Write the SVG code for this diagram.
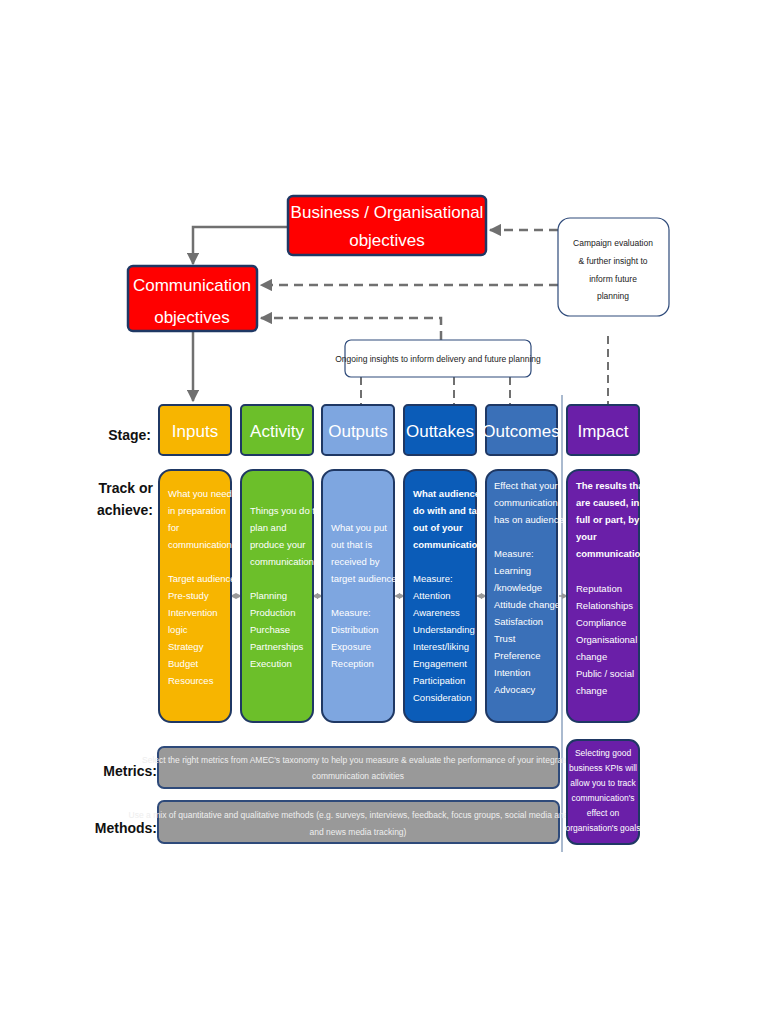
<svg xmlns="http://www.w3.org/2000/svg" width="768" height="1024" viewBox="0 0 768 1024">
<defs>
<marker id="ah" viewBox="0 0 10 10" refX="9" refY="5" markerWidth="5" markerHeight="5" orient="auto"><path d="M0,0L10,5L0,10z" fill="#707070"/></marker>
<marker id="ds" viewBox="0 0 10 10" refX="5" refY="5" markerWidth="4" markerHeight="4" orient="auto-start-reverse"><path d="M0,0L10,5L0,10z" fill="#999"/></marker>
</defs>
<style>
text{font-family:"Liberation Sans",Arial,sans-serif}
.red{fill:#f00;stroke:#1f3864;stroke-width:2.5}
.wt{fill:#fff;stroke:#2e4a7a;stroke-width:1.2}
.st{stroke:#1f3864;stroke-width:2}
.h{fill:#fff;font-size:17px;text-anchor:middle}
.lb{fill:#111;font-size:14px;font-weight:bold;text-anchor:end}
.b{fill:#fff;font-size:9.5px}
.bb{fill:#fff;font-size:9.5px;font-weight:bold}
.sm{fill:#222;font-size:8.5px;text-anchor:middle}
.g{fill:#999;stroke:#2e4a7a;stroke-width:2}
.gt{fill:#eee;font-size:8.5px;text-anchor:middle}
.sol{stroke:#707070;stroke-width:2.5;fill:none}
.da{stroke:#707070;stroke-width:2.5;fill:none;stroke-dasharray:9,6}
.dv{stroke:#707070;stroke-width:2;fill:none;stroke-dasharray:8,5}
</style>
<rect width="768" height="1024" fill="#fff"/>
<g id="connectors">
<path class="sol" d="M288,227H193V264" marker-end="url(#ah)"/>
<path class="sol" d="M193,331V401" marker-end="url(#ah)"/>
<path class="da" d="M558,230H490" marker-end="url(#ah)"/>
<path class="da" d="M558,285H261" marker-end="url(#ah)"/>
<path class="da" d="M441,340V318H261" marker-end="url(#ah)"/>
<path class="dv" d="M361,377V405M454,377V405M510,377V405M608,336V405"/>
<line x1="562" y1="395" x2="562" y2="852" stroke="#8ea3bf" stroke-width="1.5"/>
<g stroke="#999" stroke-width="1.5" marker-start="url(#ds)" marker-end="url(#ds)">
<line x1="233" y1="596" x2="239" y2="596"/><line x1="315" y1="596" x2="320" y2="596"/>
<line x1="397" y1="596" x2="402" y2="596"/><line x1="479" y1="596" x2="484" y2="596"/>
</g>
<path d="M559,596H565" stroke="#999" stroke-width="1.5" marker-end="url(#ds)"/>
</g>
<g id="business"><rect class="red" x="288" y="196" width="198" height="59" rx="5"/>
<text class="h" x="387" y="218">Business / Organisational</text><text class="h" x="387" y="246">objectives</text></g>
<g id="comm"><rect class="red" x="128" y="266" width="129" height="65" rx="5"/>
<text class="h" x="192" y="291">Communication</text><text class="h" x="192" y="323">objectives</text></g>
<g id="campaign"><rect class="wt" x="558" y="218" width="111" height="98" rx="12"/>
<text class="sm" x="613" y="246">Campaign evaluation</text><text class="sm" x="613" y="264">&amp; further insight to</text><text class="sm" x="613" y="282">inform future</text><text class="sm" x="613" y="299">planning</text></g>
<g id="ongoing"><rect class="wt" x="345" y="340" width="186" height="37" rx="6"/>
<text class="sm" x="438" y="362">Ongoing insights to inform delivery and future planning</text></g>
<text class="lb" x="151" y="440">Stage:</text>
<text class="lb" x="153" y="493">Track or</text><text class="lb" x="153" y="515">achieve:</text>
<text class="lb" x="157" y="776">Metrics:</text>
<text class="lb" x="157" y="833">Methods:</text>
<g id="inputs"><rect class="st" x="159" y="405" width="72" height="50" rx="4" fill="#f7b500"/><text class="h" x="195" y="437">Inputs</text>
<rect class="st" x="159" y="470" width="72" height="252" rx="12" fill="#f7b500"/>
<text class="b" x="168" y="497">What you need</text><text class="b" x="168" y="514">in preparation</text><text class="b" x="168" y="531">for</text><text class="b" x="168" y="548">communication</text>
<text class="b" x="168" y="582">Target audience</text><text class="b" x="168" y="599">Pre-study</text><text class="b" x="168" y="616">Intervention</text><text class="b" x="168" y="633">logic</text><text class="b" x="168" y="650">Strategy</text><text class="b" x="168" y="667">Budget</text><text class="b" x="168" y="684">Resources</text></g>
<g id="activity"><rect class="st" x="241" y="405" width="72" height="50" rx="4" fill="#6cbf2a"/><text class="h" x="277" y="437">Activity</text>
<rect class="st" x="241" y="470" width="72" height="252" rx="12" fill="#6cbf2a"/>
<text class="b" x="250" y="514">Things you do to</text><text class="b" x="250" y="531">plan and</text><text class="b" x="250" y="548">produce your</text><text class="b" x="250" y="565">communication</text>
<text class="b" x="250" y="599">Planning</text><text class="b" x="250" y="616">Production</text><text class="b" x="250" y="633">Purchase</text><text class="b" x="250" y="650">Partnerships</text><text class="b" x="250" y="667">Execution</text></g>
<g id="outputs"><rect class="st" x="322" y="405" width="72" height="50" rx="4" fill="#7ea6e0"/><text class="h" x="358" y="437">Outputs</text>
<rect class="st" x="322" y="470" width="72" height="252" rx="12" fill="#7ea6e0"/>
<text class="b" x="331" y="531">What you put</text><text class="b" x="331" y="548">out that is</text><text class="b" x="331" y="565">received by</text><text class="b" x="331" y="582">target audiences</text>
<text class="b" x="331" y="616">Measure:</text><text class="b" x="331" y="633">Distribution</text><text class="b" x="331" y="650">Exposure</text><text class="b" x="331" y="667">Reception</text></g>
<g id="outtakes"><rect class="st" x="404" y="405" width="72" height="50" rx="4" fill="#0b5cb8"/><text class="h" x="440" y="437">Outtakes</text>
<rect class="st" x="404" y="470" width="72" height="252" rx="12" fill="#0b5cb8"/>
<text class="bb" x="413" y="497">What audiences</text><text class="bb" x="413" y="514">do with and take</text><text class="bb" x="413" y="531">out of your</text><text class="bb" x="413" y="548">communication</text>
<text class="b" x="413" y="582">Measure:</text><text class="b" x="413" y="599">Attention</text><text class="b" x="413" y="616">Awareness</text><text class="b" x="413" y="633">Understanding</text><text class="b" x="413" y="650">Interest/liking</text><text class="b" x="413" y="667">Engagement</text><text class="b" x="413" y="684">Participation</text><text class="b" x="413" y="701">Consideration</text></g>
<g id="outcomes"><rect class="st" x="486" y="405" width="71" height="50" rx="4" fill="#3a70b8"/><text class="h" x="521" y="437">Outcomes</text>
<rect class="st" x="486" y="470" width="71" height="252" rx="12" fill="#3a70b8"/>
<text class="b" x="494" y="489">Effect that your</text><text class="b" x="494" y="506">communication</text><text class="b" x="494" y="523">has on audience</text>
<text class="b" x="494" y="557">Measure:</text><text class="b" x="494" y="574">Learning</text><text class="b" x="494" y="591">/knowledge</text><text class="b" x="494" y="608">Attitude change</text><text class="b" x="494" y="625">Satisfaction</text><text class="b" x="494" y="642">Trust</text><text class="b" x="494" y="659">Preference</text><text class="b" x="494" y="676">Intention</text><text class="b" x="494" y="693">Advocacy</text></g>
<g id="impact"><rect class="st" x="567" y="405" width="72" height="50" rx="4" fill="#6a1fa8"/><text class="h" x="603" y="437">Impact</text>
<rect class="st" x="567" y="470" width="72" height="252" rx="12" fill="#6a1fa8"/>
<text class="bb" x="576" y="489">The results that</text><text class="bb" x="576" y="506">are caused, in</text><text class="bb" x="576" y="523">full or part, by</text><text class="bb" x="576" y="540">your</text><text class="bb" x="576" y="557">communication</text>
<text class="b" x="576" y="592">Reputation</text><text class="b" x="576" y="609">Relationships</text><text class="b" x="576" y="626">Compliance</text><text class="b" x="576" y="643">Organisational</text><text class="b" x="576" y="660">change</text><text class="b" x="576" y="677">Public / social</text><text class="b" x="576" y="694">change</text></g>
<g id="metrics"><rect class="g" x="158" y="747" width="401" height="41" rx="6"/>
<text class="gt" x="358" y="763">Select the right metrics from AMEC's taxonomy to help you measure &amp; evaluate the performance of your integrated</text><text class="gt" x="358" y="779">communication activities</text></g>
<g id="methods"><rect class="g" x="158" y="801" width="401" height="42" rx="6"/>
<text class="gt" x="358" y="818">Use a mix of quantitative and qualitative methods (e.g. surveys, interviews, feedback, focus groups, social media analytics</text><text class="gt" x="358" y="835">and news media tracking)</text></g>
<g id="kpi"><rect class="st" x="567" y="740" width="72" height="104" rx="10" fill="#6a1fa8"/>
<g class="gt" fill="#fff" style="fill:#fff;font-size:8.5px"><text x="603" y="756">Selecting good</text><text x="603" y="771">business KPIs will</text><text x="603" y="786">allow you to track</text><text x="603" y="801">communication's</text><text x="603" y="816">effect on</text><text x="603" y="831">organisation's goals</text></g></g>
</svg>
